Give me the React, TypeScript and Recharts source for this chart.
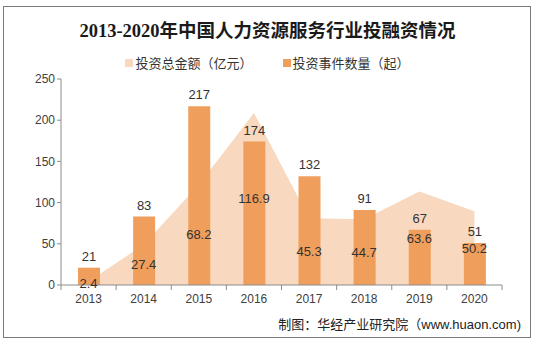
import React from 'react';
import {
  Area,
  Bar,
  ComposedChart,
  LabelList,
  XAxis,
  YAxis,
} from 'recharts';

const years = ['2013', '2014', '2015', '2016', '2017', '2018', '2019', '2020'];
const amount = [2.4, 27.4, 68.2, 116.9, 45.3, 44.7, 63.6, 50.2];
const deals = [21, 83, 217, 174, 132, 91, 67, 51];
const leftTicks = [0, 50, 100, 150, 200, 250];

const data = years.map((year, i) => ({ year, amount: amount[i], deals: deals[i] }));

const W = 535;
const H = 341;
const PLOT_LEFT = 61;
const PLOT_RIGHT = 502;
const PLOT_TOP = 79;
const PLOT_BOTTOM = 285;
const HALF_BAND = (PLOT_RIGHT - PLOT_LEFT) / years.length / 2;

const AREA_COLOR = '#F8D8BE';
const BAR_COLOR = '#F09E5C';
const TEXT = '#404040';
const AXIS = '#8c8c8c';
const FONT = 'Liberation Sans, Arial, "Noto Sans CJK SC", sans-serif';

const XTick = (props: any) => {
  const { x, payload, index } = props;
  return (
    <g>
      <line x1={x - HALF_BAND} x2={x - HALF_BAND} y1={PLOT_BOTTOM} y2={PLOT_BOTTOM + 5} stroke={AXIS} />
      {index === years.length - 1 && (
        <line x1={x + HALF_BAND} x2={x + HALF_BAND} y1={PLOT_BOTTOM} y2={PLOT_BOTTOM + 5} stroke={AXIS} />
      )}
      <text x={x} y={PLOT_BOTTOM + 18} textAnchor="middle" fontSize={12} fill={TEXT} fontFamily={FONT}>
        {payload.value}
      </text>
    </g>
  );
};

const AmountLabel = (props: any) => {
  const { x, y, value } = props;
  return (
    <text
      x={x}
      y={(y + PLOT_BOTTOM) / 2}
      textAnchor="middle"
      dominantBaseline="central"
      fontSize={13}
      fill="#333"
      fontFamily={FONT}
    >
      {value}
    </text>
  );
};

const LegendBox = () => (
  <div
    style={{
      position: 'absolute',
      left: 0,
      top: 53,
      width: W,
      display: 'flex',
      justifyContent: 'center',
      gap: 30,
      fontSize: 13,
      color: '#333',
      fontFamily: FONT,
    }}
  >
    <span style={{ display: 'flex', alignItems: 'center' }}>
      <span style={{ width: 8, height: 8, background: AREA_COLOR, marginRight: 2 }} />
      投资总金额（亿元）
    </span>
    <span style={{ display: 'flex', alignItems: 'center' }}>
      <span style={{ width: 8, height: 8, background: BAR_COLOR, marginRight: 2 }} />
      投资事件数量（起）
    </span>
  </div>
);

export default function App() {
  return (
    <div style={{ position: 'absolute', left: 0, top: 0, width: W, height: H, background: '#fff' }}>
      <div
        style={{
          position: 'absolute',
          left: 3,
          top: 6,
          width: 526,
          height: 330,
          border: '1px solid #7a7a7a',
        }}
      />
      <div
        style={{
          position: 'absolute',
          left: 0,
          top: 16,
          width: W,
          textAlign: 'center',
          fontSize: 18.5,
          fontWeight: 'bold',
          color: '#1a1a1a',
          fontFamily: '"Liberation Serif", "Noto Sans CJK SC", serif',
        }}
      >
        2013-2020年中国人力资源服务行业投融资情况
      </div>
      <LegendBox />
      <div style={{ position: 'absolute', left: 0, top: 0 }}>
        <ComposedChart
          width={W}
          height={H}
          data={data}
          margin={{ top: PLOT_TOP, right: W - PLOT_RIGHT, bottom: H - PLOT_BOTTOM - 30, left: 0 }}
        >
          <XAxis
            dataKey="year"
            height={30}
            stroke={AXIS}
            tickLine={false}
            tick={<XTick />}
            interval={0}
          />
          <YAxis
            yAxisId="left"
            width={PLOT_LEFT}
            domain={[0, 250]}
            ticks={leftTicks}
            stroke={AXIS}
            tickSize={4}
            tick={{ fontSize: 12, fill: TEXT, fontFamily: FONT }}
            interval={0}
          />
          <YAxis yAxisId="right" orientation="right" domain={[0, 140]} allowDataOverflow hide />
          <Area
            yAxisId="right"
            type="linear"
            dataKey="amount"
            fill={AREA_COLOR}
            fillOpacity={1}
            stroke="none"
            isAnimationActive={false}
          >
            <LabelList dataKey="amount" content={<AmountLabel />} />
          </Area>
          <Bar yAxisId="left" dataKey="deals" fill={BAR_COLOR} barSize={22} isAnimationActive={false}>
            <LabelList dataKey="deals" position="top" offset={7} fontSize={13} fill="#333" fontFamily={FONT} />
          </Bar>
        </ComposedChart>
      </div>
      <div
        style={{
          position: 'absolute',
          right: 14,
          top: 314,
          fontSize: 13,
          color: '#222',
          fontFamily: FONT,
        }}
      >
        制图：华经产业研究院（www.huaon.com)
      </div>
    </div>
  );
}
